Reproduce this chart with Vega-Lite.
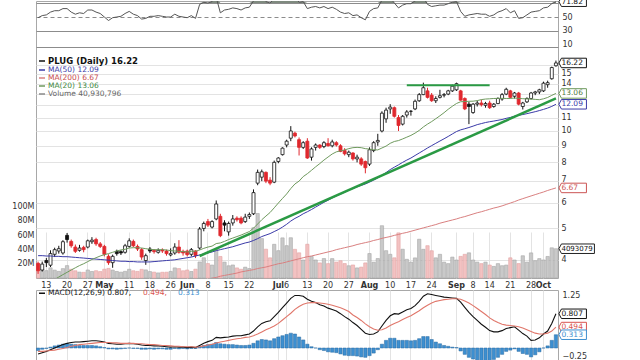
{
"$schema":"https://vega.github.io/schema/vega-lite/v6.json",
"background":"white",
"padding":{"left":11,"top":-6,"right":0,"bottom":0},
"config":{"font":"DejaVu Sans","view":{"stroke":"#a8a8a8","strokeWidth":1},
"axis":{"labelFont":"DejaVu Sans","labelFontSize":8,"labelColor":"#333333","ticks":false,"domain":false,"gridColor":"#e3e3e3","gridWidth":1},
"legend":{"labelFont":"DejaVu Sans","labelFontSize":7.5,"padding":0,"rowPadding":0,"symbolStrokeWidth":1.5,"labelOffset":2}},
"data":{"values":[
{"d":"2020-04-08","o":3.9,"h":3.95,"l":3.62,"c":3.7,"v":20400000,"m20":3.3,"m50":4.12,"m200":2.9,"rsi":49,"macd":-0.14,"sig":-0.08,"hist":-0.06},
{"d":"2020-04-09","o":3.72,"h":3.95,"l":3.68,"c":3.88,"v":12100000,"m20":3.34,"m50":4.12,"m200":2.91,"rsi":52,"macd":-0.11,"sig":-0.08,"hist":-0.03},
{"d":"2020-04-13","o":3.98,"h":4.05,"l":3.8,"c":3.92,"v":10300000,"m20":3.38,"m50":4.11,"m200":2.92,"rsi":53,"macd":-0.08,"sig":-0.07,"hist":-0.01},
{"d":"2020-04-14","o":3.85,"h":4.28,"l":3.8,"c":4.18,"v":14200000,"m20":3.43,"m50":4.11,"m200":2.93,"rsi":57,"macd":-0.04,"sig":-0.06,"hist":0.02},
{"d":"2020-04-15","o":4.16,"h":4.36,"l":4.08,"c":4.3,"v":11000000,"m20":3.48,"m50":4.1,"m200":2.94,"rsi":59,"macd":0.0,"sig":-0.05,"hist":0.05},
{"d":"2020-04-16","o":4.26,"h":4.42,"l":4.18,"c":4.33,"v":9200000,"m20":3.54,"m50":4.1,"m200":2.95,"rsi":59,"macd":0.04,"sig":-0.03,"hist":0.07},
{"d":"2020-04-17","o":4.2,"h":4.6,"l":4.15,"c":4.55,"v":13100000,"m20":3.6,"m50":4.09,"m200":2.96,"rsi":62,"macd":0.08,"sig":-0.01,"hist":0.09},
{"d":"2020-04-20","o":4.76,"h":4.84,"l":4.52,"c":4.62,"v":17300000,"m20":3.66,"m50":4.09,"m200":2.97,"rsi":62,"macd":0.11,"sig":0.01,"hist":0.1},
{"d":"2020-04-21","o":4.56,"h":4.62,"l":4.36,"c":4.42,"v":12200000,"m20":3.72,"m50":4.08,"m200":2.98,"rsi":57,"macd":0.13,"sig":0.04,"hist":0.09},
{"d":"2020-04-22","o":4.38,"h":4.46,"l":4.2,"c":4.25,"v":10100000,"m20":3.78,"m50":4.07,"m200":2.99,"rsi":54,"macd":0.14,"sig":0.06,"hist":0.08},
{"d":"2020-04-23","o":4.28,"h":4.45,"l":4.24,"c":4.35,"v":8200000,"m20":3.84,"m50":4.06,"m200":3.0,"rsi":56,"macd":0.14,"sig":0.08,"hist":0.06},
{"d":"2020-04-24","o":4.37,"h":4.42,"l":4.22,"c":4.3,"v":7900000,"m20":3.89,"m50":4.05,"m200":3.01,"rsi":55,"macd":0.15,"sig":0.09,"hist":0.06},
{"d":"2020-04-27","o":4.38,"h":4.62,"l":4.34,"c":4.58,"v":11200000,"m20":3.95,"m50":4.04,"m200":3.02,"rsi":60,"macd":0.16,"sig":0.1,"hist":0.06},
{"d":"2020-04-28","o":4.55,"h":4.7,"l":4.48,"c":4.6,"v":9100000,"m20":4.01,"m50":4.03,"m200":3.04,"rsi":60,"macd":0.17,"sig":0.11,"hist":0.06},
{"d":"2020-04-29","o":4.62,"h":4.68,"l":4.42,"c":4.48,"v":10200000,"m20":4.06,"m50":4.02,"m200":3.05,"rsi":57,"macd":0.17,"sig":0.12,"hist":0.05},
{"d":"2020-04-30","o":4.48,"h":4.54,"l":4.35,"c":4.4,"v":9000000,"m20":4.11,"m50":4.01,"m200":3.06,"rsi":55,"macd":0.16,"sig":0.13,"hist":0.03},
{"d":"2020-05-01","o":4.4,"h":4.45,"l":4.1,"c":4.16,"v":12300000,"m20":4.15,"m50":4.0,"m200":3.07,"rsi":50,"macd":0.14,"sig":0.13,"hist":0.01},
{"d":"2020-05-04","o":4.1,"h":4.16,"l":3.86,"c":3.92,"v":13400000,"m20":4.18,"m50":3.99,"m200":3.08,"rsi":45,"macd":0.11,"sig":0.13,"hist":-0.02},
{"d":"2020-05-05","o":3.92,"h":4.15,"l":3.78,"c":4.1,"v":11100000,"m20":4.22,"m50":3.98,"m200":3.1,"rsi":49,"macd":0.1,"sig":0.12,"hist":-0.02},
{"d":"2020-05-06","o":4.25,"h":4.3,"l":4.12,"c":4.18,"v":9100000,"m20":4.26,"m50":3.97,"m200":3.11,"rsi":50,"macd":0.09,"sig":0.12,"hist":-0.03},
{"d":"2020-05-07","o":4.24,"h":4.28,"l":4.14,"c":4.2,"v":8100000,"m20":4.29,"m50":3.96,"m200":3.12,"rsi":51,"macd":0.09,"sig":0.11,"hist":-0.02},
{"d":"2020-05-08","o":4.22,"h":4.48,"l":4.18,"c":4.42,"v":9300000,"m20":4.31,"m50":3.96,"m200":3.14,"rsi":55,"macd":0.1,"sig":0.11,"hist":-0.01},
{"d":"2020-05-11","o":4.4,"h":4.66,"l":4.36,"c":4.58,"v":12200000,"m20":4.35,"m50":3.95,"m200":3.15,"rsi":58,"macd":0.11,"sig":0.11,"hist":0.0},
{"d":"2020-05-12","o":4.56,"h":4.62,"l":4.38,"c":4.42,"v":10100000,"m20":4.36,"m50":3.95,"m200":3.17,"rsi":54,"macd":0.1,"sig":0.11,"hist":-0.01},
{"d":"2020-05-13","o":4.4,"h":4.46,"l":4.26,"c":4.32,"v":9200000,"m20":4.36,"m50":3.94,"m200":3.18,"rsi":52,"macd":0.09,"sig":0.1,"hist":-0.01},
{"d":"2020-05-14","o":4.3,"h":4.35,"l":4.0,"c":4.08,"v":12100000,"m20":4.35,"m50":3.94,"m200":3.2,"rsi":47,"macd":0.07,"sig":0.1,"hist":-0.03},
{"d":"2020-05-15","o":3.98,"h":4.18,"l":3.86,"c":4.12,"v":11300000,"m20":4.33,"m50":3.94,"m200":3.22,"rsi":48,"macd":0.06,"sig":0.09,"hist":-0.03},
{"d":"2020-05-18","o":4.32,"h":4.38,"l":4.2,"c":4.26,"v":9000000,"m20":4.31,"m50":3.94,"m200":3.23,"rsi":51,"macd":0.06,"sig":0.08,"hist":-0.02},
{"d":"2020-05-19","o":4.28,"h":4.32,"l":4.18,"c":4.24,"v":8200000,"m20":4.3,"m50":3.95,"m200":3.25,"rsi":51,"macd":0.05,"sig":0.08,"hist":-0.03},
{"d":"2020-05-20","o":4.22,"h":4.34,"l":4.18,"c":4.28,"v":7100000,"m20":4.3,"m50":3.96,"m200":3.26,"rsi":52,"macd":0.05,"sig":0.07,"hist":-0.02},
{"d":"2020-05-21","o":4.29,"h":4.34,"l":4.2,"c":4.26,"v":8000000,"m20":4.3,"m50":3.97,"m200":3.28,"rsi":51,"macd":0.04,"sig":0.06,"hist":-0.02},
{"d":"2020-05-22","o":4.26,"h":4.3,"l":4.12,"c":4.18,"v":8100000,"m20":4.29,"m50":3.98,"m200":3.3,"rsi":50,"macd":0.03,"sig":0.06,"hist":-0.03},
{"d":"2020-05-26","o":4.14,"h":4.34,"l":4.1,"c":4.18,"v":9200000,"m20":4.27,"m50":3.99,"m200":3.32,"rsi":50,"macd":0.02,"sig":0.05,"hist":-0.03},
{"d":"2020-05-27","o":4.2,"h":4.5,"l":4.15,"c":4.38,"v":14100000,"m20":4.26,"m50":4.0,"m200":3.34,"rsi":54,"macd":0.03,"sig":0.04,"hist":-0.01},
{"d":"2020-05-28","o":4.38,"h":4.6,"l":4.18,"c":4.22,"v":13200000,"m20":4.25,"m50":4.02,"m200":3.36,"rsi":51,"macd":0.02,"sig":0.04,"hist":-0.02},
{"d":"2020-05-29","o":4.25,"h":4.3,"l":4.12,"c":4.2,"v":10100000,"m20":4.24,"m50":4.04,"m200":3.37,"rsi":50,"macd":0.02,"sig":0.03,"hist":-0.01},
{"d":"2020-06-01","o":4.26,"h":4.3,"l":4.1,"c":4.15,"v":11200000,"m20":4.23,"m50":4.06,"m200":3.39,"rsi":49,"macd":0.01,"sig":0.03,"hist":-0.02},
{"d":"2020-06-02","o":4.16,"h":4.35,"l":4.1,"c":4.3,"v":9100000,"m20":4.25,"m50":4.08,"m200":3.41,"rsi":52,"macd":0.02,"sig":0.03,"hist":-0.01},
{"d":"2020-06-03","o":4.26,"h":4.28,"l":4.05,"c":4.12,"v":12300000,"m20":4.25,"m50":4.11,"m200":3.43,"rsi":48,"macd":0.01,"sig":0.02,"hist":-0.01},
{"d":"2020-06-04","o":4.35,"h":5.05,"l":4.3,"c":4.98,"v":22400000,"m20":4.29,"m50":4.14,"m200":3.45,"rsi":68,"macd":0.06,"sig":0.03,"hist":0.03},
{"d":"2020-06-05","o":5.0,"h":5.25,"l":4.9,"c":5.18,"v":28300000,"m20":4.34,"m50":4.17,"m200":3.47,"rsi":71,"macd":0.11,"sig":0.05,"hist":0.06},
{"d":"2020-06-08","o":5.25,"h":5.35,"l":5.05,"c":5.12,"v":20200000,"m20":4.38,"m50":4.2,"m200":3.49,"rsi":70,"macd":0.15,"sig":0.07,"hist":0.08},
{"d":"2020-06-09","o":5.05,"h":5.3,"l":5.0,"c":5.25,"v":18100000,"m20":4.41,"m50":4.23,"m200":3.51,"rsi":72,"macd":0.18,"sig":0.09,"hist":0.09},
{"d":"2020-06-10","o":5.35,"h":6.1,"l":5.3,"c":5.95,"v":40200000,"m20":4.49,"m50":4.27,"m200":3.53,"rsi":78,"macd":0.25,"sig":0.12,"hist":0.13},
{"d":"2020-06-11","o":5.45,"h":5.55,"l":4.7,"c":4.75,"v":30100000,"m20":4.51,"m50":4.3,"m200":3.56,"rsi":56,"macd":0.24,"sig":0.14,"hist":0.1},
{"d":"2020-06-12","o":5.2,"h":5.3,"l":4.9,"c":5.12,"v":22200000,"m20":4.56,"m50":4.33,"m200":3.58,"rsi":60,"macd":0.25,"sig":0.16,"hist":0.09},
{"d":"2020-06-15","o":4.88,"h":5.25,"l":4.75,"c":5.18,"v":17100000,"m20":4.62,"m50":4.36,"m200":3.6,"rsi":61,"macd":0.26,"sig":0.18,"hist":0.08},
{"d":"2020-06-16","o":5.2,"h":5.5,"l":5.1,"c":5.35,"v":18200000,"m20":4.67,"m50":4.39,"m200":3.62,"rsi":63,"macd":0.28,"sig":0.2,"hist":0.08},
{"d":"2020-06-17","o":5.38,"h":5.45,"l":5.25,"c":5.32,"v":14100000,"m20":4.72,"m50":4.43,"m200":3.64,"rsi":62,"macd":0.29,"sig":0.22,"hist":0.07},
{"d":"2020-06-18","o":5.38,"h":5.45,"l":5.15,"c":5.2,"v":12200000,"m20":4.77,"m50":4.47,"m200":3.67,"rsi":60,"macd":0.29,"sig":0.23,"hist":0.06},
{"d":"2020-06-19","o":5.25,"h":5.55,"l":5.2,"c":5.42,"v":15100000,"m20":4.83,"m50":4.51,"m200":3.69,"rsi":63,"macd":0.31,"sig":0.25,"hist":0.06},
{"d":"2020-06-22","o":5.45,"h":5.6,"l":5.35,"c":5.52,"v":13200000,"m20":4.89,"m50":4.54,"m200":3.71,"rsi":64,"macd":0.33,"sig":0.26,"hist":0.07},
{"d":"2020-06-23","o":5.55,"h":6.6,"l":5.5,"c":6.45,"v":70300000,"m20":5.01,"m50":4.59,"m200":3.73,"rsi":73,"macd":0.4,"sig":0.29,"hist":0.11},
{"d":"2020-06-24","o":6.9,"h":7.6,"l":6.8,"c":7.45,"v":90200000,"m20":5.16,"m50":4.65,"m200":3.76,"rsi":79,"macd":0.5,"sig":0.33,"hist":0.17},
{"d":"2020-06-25","o":7.2,"h":7.6,"l":7.0,"c":7.48,"v":55100000,"m20":5.32,"m50":4.72,"m200":3.78,"rsi":79,"macd":0.58,"sig":0.38,"hist":0.2},
{"d":"2020-06-26","o":7.45,"h":7.5,"l":6.9,"c":7.0,"v":40300000,"m20":5.46,"m50":4.77,"m200":3.8,"rsi":72,"macd":0.62,"sig":0.43,"hist":0.19},
{"d":"2020-06-29","o":7.05,"h":7.2,"l":6.8,"c":6.9,"v":28200000,"m20":5.6,"m50":4.82,"m200":3.83,"rsi":70,"macd":0.64,"sig":0.47,"hist":0.17},
{"d":"2020-06-30","o":6.95,"h":8.1,"l":6.9,"c":8.0,"v":47100000,"m20":5.79,"m50":4.89,"m200":3.86,"rsi":76,"macd":0.74,"sig":0.52,"hist":0.22},
{"d":"2020-07-01","o":8.05,"h":8.3,"l":7.95,"c":8.25,"v":38200000,"m20":5.99,"m50":4.96,"m200":3.89,"rsi":77,"macd":0.84,"sig":0.58,"hist":0.26},
{"d":"2020-07-02","o":8.45,"h":8.9,"l":8.4,"c":8.85,"v":56100000,"m20":6.19,"m50":5.05,"m200":3.91,"rsi":80,"macd":0.95,"sig":0.66,"hist":0.29},
{"d":"2020-07-06","o":9.05,"h":9.4,"l":8.9,"c":9.3,"v":45200000,"m20":6.39,"m50":5.15,"m200":3.94,"rsi":82,"macd":1.06,"sig":0.74,"hist":0.32},
{"d":"2020-07-07","o":9.5,"h":10.35,"l":9.3,"c":10.0,"v":56300000,"m20":6.64,"m50":5.27,"m200":3.97,"rsi":85,"macd":1.17,"sig":0.82,"hist":0.35},
{"d":"2020-07-08","o":9.85,"h":9.95,"l":9.55,"c":9.65,"v":40100000,"m20":6.86,"m50":5.37,"m200":4.0,"rsi":80,"macd":1.24,"sig":0.91,"hist":0.33},
{"d":"2020-07-09","o":9.4,"h":9.55,"l":8.4,"c":8.9,"v":35200000,"m20":7.0,"m50":5.45,"m200":4.03,"rsi":71,"macd":1.24,"sig":0.98,"hist":0.26},
{"d":"2020-07-10","o":8.9,"h":9.3,"l":8.8,"c":9.2,"v":25100000,"m20":7.23,"m50":5.55,"m200":4.06,"rsi":72,"macd":1.22,"sig":1.03,"hist":0.19},
{"d":"2020-07-13","o":9.3,"h":9.5,"l":8.2,"c":8.25,"v":47200000,"m20":7.38,"m50":5.63,"m200":4.09,"rsi":62,"macd":1.15,"sig":1.06,"hist":0.09},
{"d":"2020-07-14","o":8.3,"h":8.9,"l":8.1,"c":8.8,"v":30100000,"m20":7.56,"m50":5.72,"m200":4.11,"rsi":64,"macd":1.1,"sig":1.07,"hist":0.03},
{"d":"2020-07-15","o":8.9,"h":9.15,"l":8.7,"c":9.05,"v":25200000,"m20":7.75,"m50":5.82,"m200":4.14,"rsi":65,"macd":1.07,"sig":1.07,"hist":0.0},
{"d":"2020-07-16","o":9.05,"h":9.1,"l":8.8,"c":8.9,"v":21100000,"m20":7.93,"m50":5.92,"m200":4.17,"rsi":63,"macd":1.02,"sig":1.06,"hist":-0.04},
{"d":"2020-07-17","o":8.95,"h":9.3,"l":8.85,"c":9.2,"v":27200000,"m20":8.13,"m50":6.02,"m200":4.2,"rsi":65,"macd":0.99,"sig":1.05,"hist":-0.06},
{"d":"2020-07-20","o":9.15,"h":9.5,"l":8.95,"c":9.0,"v":20100000,"m20":8.31,"m50":6.11,"m200":4.23,"rsi":62,"macd":0.94,"sig":1.03,"hist":-0.09},
{"d":"2020-07-21","o":9.0,"h":9.4,"l":8.9,"c":9.25,"v":27100000,"m20":8.49,"m50":6.21,"m200":4.26,"rsi":64,"macd":0.91,"sig":1.01,"hist":-0.1},
{"d":"2020-07-22","o":9.2,"h":9.3,"l":8.95,"c":9.05,"v":22200000,"m20":8.62,"m50":6.3,"m200":4.3,"rsi":61,"macd":0.87,"sig":0.98,"hist":-0.11},
{"d":"2020-07-23","o":9.0,"h":9.1,"l":8.6,"c":8.65,"v":24100000,"m20":8.68,"m50":6.38,"m200":4.33,"rsi":57,"macd":0.81,"sig":0.95,"hist":-0.14},
{"d":"2020-07-24","o":8.7,"h":8.85,"l":8.4,"c":8.5,"v":20200000,"m20":8.74,"m50":6.47,"m200":4.36,"rsi":55,"macd":0.74,"sig":0.91,"hist":-0.17},
{"d":"2020-07-27","o":8.45,"h":8.7,"l":8.3,"c":8.6,"v":17100000,"m20":8.82,"m50":6.56,"m200":4.39,"rsi":56,"macd":0.68,"sig":0.86,"hist":-0.18},
{"d":"2020-07-28","o":8.55,"h":8.6,"l":8.1,"c":8.2,"v":18200000,"m20":8.88,"m50":6.64,"m200":4.42,"rsi":52,"macd":0.6,"sig":0.78,"hist":-0.18},
{"d":"2020-07-29","o":8.2,"h":8.45,"l":8.0,"c":8.3,"v":14100000,"m20":8.9,"m50":6.72,"m200":4.46,"rsi":53,"macd":0.53,"sig":0.72,"hist":-0.19},
{"d":"2020-07-30","o":8.2,"h":8.3,"l":7.8,"c":7.9,"v":15200000,"m20":8.88,"m50":6.79,"m200":4.49,"rsi":49,"macd":0.44,"sig":0.65,"hist":-0.21},
{"d":"2020-07-31","o":8.05,"h":8.1,"l":7.4,"c":7.7,"v":21100000,"m20":8.82,"m50":6.86,"m200":4.52,"rsi":46,"macd":0.35,"sig":0.57,"hist":-0.22},
{"d":"2020-08-03","o":7.9,"h":8.9,"l":7.8,"c":8.75,"v":34200000,"m20":8.79,"m50":6.95,"m200":4.55,"rsi":58,"macd":0.32,"sig":0.5,"hist":-0.18},
{"d":"2020-08-04","o":8.7,"h":9.3,"l":8.6,"c":9.2,"v":22100000,"m20":8.75,"m50":7.05,"m200":4.59,"rsi":62,"macd":0.33,"sig":0.45,"hist":-0.12},
{"d":"2020-08-05","o":9.25,"h":9.8,"l":9.0,"c":9.35,"v":27200000,"m20":8.74,"m50":7.16,"m200":4.62,"rsi":63,"macd":0.38,"sig":0.42,"hist":-0.04},
{"d":"2020-08-06","o":10.0,"h":11.5,"l":9.9,"c":11.35,"v":73100000,"m20":8.86,"m50":7.3,"m200":4.66,"rsi":74,"macd":0.52,"sig":0.43,"hist":0.09},
{"d":"2020-08-07","o":10.9,"h":11.8,"l":10.6,"c":11.6,"v":38200000,"m20":8.98,"m50":7.44,"m200":4.69,"rsi":76,"macd":0.65,"sig":0.47,"hist":0.18},
{"d":"2020-08-10","o":11.7,"h":12.1,"l":11.3,"c":11.85,"v":33100000,"m20":9.16,"m50":7.6,"m200":4.72,"rsi":77,"macd":0.76,"sig":0.53,"hist":0.23},
{"d":"2020-08-11","o":11.8,"h":11.9,"l":11.0,"c":11.1,"v":28200000,"m20":9.28,"m50":7.73,"m200":4.76,"rsi":70,"macd":0.81,"sig":0.58,"hist":0.23},
{"d":"2020-08-12","o":11.0,"h":11.2,"l":10.0,"c":10.4,"v":63100000,"m20":9.34,"m50":7.86,"m200":4.79,"rsi":63,"macd":0.8,"sig":0.62,"hist":0.18},
{"d":"2020-08-13","o":10.5,"h":11.2,"l":10.4,"c":11.1,"v":40200000,"m20":9.45,"m50":8.0,"m200":4.83,"rsi":67,"macd":0.85,"sig":0.67,"hist":0.18},
{"d":"2020-08-14","o":11.2,"h":11.6,"l":11.0,"c":11.45,"v":26100000,"m20":9.57,"m50":8.13,"m200":4.86,"rsi":69,"macd":0.9,"sig":0.72,"hist":0.18},
{"d":"2020-08-17","o":11.5,"h":11.6,"l":11.15,"c":11.5,"v":22200000,"m20":9.69,"m50":8.25,"m200":4.9,"rsi":69,"macd":0.93,"sig":0.76,"hist":0.17},
{"d":"2020-08-18","o":11.7,"h":12.5,"l":11.6,"c":12.35,"v":28100000,"m20":9.85,"m50":8.4,"m200":4.94,"rsi":73,"macd":1.0,"sig":0.82,"hist":0.18},
{"d":"2020-08-19","o":12.4,"h":13.1,"l":12.3,"c":12.95,"v":54200000,"m20":10.04,"m50":8.55,"m200":4.98,"rsi":76,"macd":1.1,"sig":0.88,"hist":0.22},
{"d":"2020-08-20","o":12.95,"h":14.1,"l":12.9,"c":13.6,"v":40100000,"m20":10.29,"m50":8.7,"m200":5.02,"rsi":78,"macd":1.22,"sig":0.95,"hist":0.27},
{"d":"2020-08-21","o":13.3,"h":13.6,"l":12.6,"c":12.7,"v":45200000,"m20":10.5,"m50":8.86,"m200":5.06,"rsi":68,"macd":1.28,"sig":1.01,"hist":0.27},
{"d":"2020-08-24","o":12.9,"h":13.1,"l":12.3,"c":12.4,"v":38100000,"m20":10.69,"m50":9.01,"m200":5.1,"rsi":65,"macd":1.26,"sig":1.06,"hist":0.2},
{"d":"2020-08-25","o":12.4,"h":12.8,"l":12.2,"c":12.6,"v":28200000,"m20":10.91,"m50":9.16,"m200":5.14,"rsi":66,"macd":1.24,"sig":1.1,"hist":0.14},
{"d":"2020-08-26","o":12.7,"h":13.4,"l":12.6,"c":12.85,"v":33100000,"m20":11.14,"m50":9.31,"m200":5.19,"rsi":67,"macd":1.22,"sig":1.12,"hist":0.1},
{"d":"2020-08-27","o":12.9,"h":13.1,"l":12.7,"c":12.95,"v":22200000,"m20":11.39,"m50":9.46,"m200":5.23,"rsi":67,"macd":1.2,"sig":1.14,"hist":0.06},
{"d":"2020-08-28","o":13.0,"h":13.4,"l":12.9,"c":13.3,"v":20100000,"m20":11.67,"m50":9.62,"m200":5.27,"rsi":69,"macd":1.19,"sig":1.15,"hist":0.04},
{"d":"2020-08-31","o":13.3,"h":13.9,"l":13.2,"c":13.75,"v":29200000,"m20":11.92,"m50":9.79,"m200":5.31,"rsi":71,"macd":1.18,"sig":1.16,"hist":0.02},
{"d":"2020-09-01","o":13.4,"h":14.1,"l":13.3,"c":14.0,"v":25100000,"m20":12.16,"m50":9.96,"m200":5.35,"rsi":72,"macd":1.17,"sig":1.16,"hist":0.01},
{"d":"2020-09-02","o":13.3,"h":13.4,"l":12.4,"c":12.45,"v":30200000,"m20":12.31,"m50":10.08,"m200":5.4,"rsi":58,"macd":1.08,"sig":1.15,"hist":-0.07},
{"d":"2020-09-03","o":12.6,"h":12.7,"l":11.6,"c":11.7,"v":33100000,"m20":12.33,"m50":10.16,"m200":5.44,"rsi":51,"macd":0.96,"sig":1.11,"hist":-0.15},
{"d":"2020-09-04","o":12.1,"h":12.3,"l":10.5,"c":11.9,"v":35200000,"m20":12.35,"m50":10.25,"m200":5.49,"rsi":53,"macd":0.84,"sig":1.06,"hist":-0.22},
{"d":"2020-09-08","o":11.4,"h":12.2,"l":11.3,"c":12.1,"v":25100000,"m20":12.36,"m50":10.35,"m200":5.54,"rsi":54,"macd":0.74,"sig":1.0,"hist":-0.26},
{"d":"2020-09-09","o":12.1,"h":12.4,"l":11.9,"c":12.2,"v":22200000,"m20":12.41,"m50":10.46,"m200":5.59,"rsi":55,"macd":0.65,"sig":0.93,"hist":-0.28},
{"d":"2020-09-10","o":12.2,"h":12.5,"l":11.9,"c":12.05,"v":20100000,"m20":12.5,"m50":10.54,"m200":5.63,"rsi":54,"macd":0.56,"sig":0.86,"hist":-0.3},
{"d":"2020-09-11","o":12.0,"h":12.3,"l":11.8,"c":12.15,"v":22200000,"m20":12.55,"m50":10.62,"m200":5.68,"rsi":54,"macd":0.49,"sig":0.79,"hist":-0.3},
{"d":"2020-09-14","o":12.2,"h":12.4,"l":11.7,"c":11.8,"v":18100000,"m20":12.57,"m50":10.68,"m200":5.73,"rsi":51,"macd":0.41,"sig":0.71,"hist":-0.3},
{"d":"2020-09-15","o":11.9,"h":12.2,"l":11.8,"c":12.1,"v":16200000,"m20":12.6,"m50":10.73,"m200":5.78,"rsi":53,"macd":0.38,"sig":0.65,"hist":-0.27},
{"d":"2020-09-16","o":12.15,"h":12.7,"l":12.1,"c":12.6,"v":20100000,"m20":12.61,"m50":10.79,"m200":5.82,"rsi":57,"macd":0.38,"sig":0.6,"hist":-0.22},
{"d":"2020-09-17","o":12.55,"h":13.1,"l":12.4,"c":12.95,"v":17200000,"m20":12.61,"m50":10.85,"m200":5.87,"rsi":59,"macd":0.41,"sig":0.56,"hist":-0.15},
{"d":"2020-09-18","o":13.0,"h":13.6,"l":12.9,"c":13.45,"v":18100000,"m20":12.6,"m50":10.94,"m200":5.93,"rsi":62,"macd":0.46,"sig":0.54,"hist":-0.08},
{"d":"2020-09-21","o":13.3,"h":13.4,"l":12.6,"c":12.7,"v":28200000,"m20":12.6,"m50":11.01,"m200":5.99,"rsi":56,"macd":0.48,"sig":0.53,"hist":-0.05},
{"d":"2020-09-22","o":12.8,"h":13.2,"l":12.6,"c":13.1,"v":25100000,"m20":12.64,"m50":11.11,"m200":6.05,"rsi":59,"macd":0.5,"sig":0.52,"hist":-0.02},
{"d":"2020-09-23","o":13.1,"h":13.2,"l":12.0,"c":12.1,"v":20200000,"m20":12.61,"m50":11.18,"m200":6.12,"rsi":48,"macd":0.42,"sig":0.5,"hist":-0.08},
{"d":"2020-09-24","o":11.9,"h":12.3,"l":11.65,"c":12.2,"v":31100000,"m20":12.58,"m50":11.24,"m200":6.18,"rsi":49,"macd":0.34,"sig":0.47,"hist":-0.13},
{"d":"2020-09-25","o":12.3,"h":12.7,"l":12.2,"c":12.6,"v":22200000,"m20":12.56,"m50":11.31,"m200":6.24,"rsi":53,"macd":0.28,"sig":0.43,"hist":-0.15},
{"d":"2020-09-28","o":12.6,"h":13.2,"l":12.5,"c":13.1,"v":35100000,"m20":12.55,"m50":11.39,"m200":6.3,"rsi":57,"macd":0.18,"sig":0.39,"hist":-0.21},
{"d":"2020-09-29","o":13.1,"h":13.3,"l":12.9,"c":13.2,"v":24200000,"m20":12.52,"m50":11.47,"m200":6.36,"rsi":58,"macd":0.19,"sig":0.35,"hist":-0.16},
{"d":"2020-09-30","o":13.2,"h":13.5,"l":13.0,"c":13.4,"v":27100000,"m20":12.49,"m50":11.56,"m200":6.42,"rsi":59,"macd":0.24,"sig":0.33,"hist":-0.09},
{"d":"2020-10-01","o":13.3,"h":14.2,"l":13.2,"c":14.05,"v":25200000,"m20":12.57,"m50":11.66,"m200":6.48,"rsi":63,"macd":0.33,"sig":0.33,"hist":0.0},
{"d":"2020-10-02","o":13.9,"h":14.3,"l":13.6,"c":14.1,"v":30100000,"m20":12.69,"m50":11.77,"m200":6.55,"rsi":64,"macd":0.4,"sig":0.35,"hist":0.05},
{"d":"2020-10-05","o":14.5,"h":15.8,"l":14.4,"c":15.7,"v":42200000,"m20":12.88,"m50":11.91,"m200":6.61,"rsi":69,"macd":0.58,"sig":0.4,"hist":0.18},
{"d":"2020-10-06","o":15.9,"h":16.5,"l":15.8,"c":16.22,"v":40930796,"m20":13.06,"m50":12.09,"m200":6.67,"rsi":71.82,"macd":0.807,"sig":0.494,"hist":0.313}
]},
"transform":[
{"window":[{"op":"lag","field":"c","as":"pc"}],"sort":[{"field":"d","order":"ascending"}]},
{"calculate":"isValid(datum.pc) ? (datum.c < datum.pc) : (datum.c < datum.o)","as":"dn"},
{"calculate":"max(datum.rsi, 70)","as":"rsiHi"}
],
"vconcat":[
{
"width":522,"height":277,
"encoding":{"x":{"field":"d","type":"ordinal","title":null,"scale":{"type":"band","paddingInner":0,"paddingOuter":0},
"axis":{"values":["2020-04-13","2020-04-20","2020-04-27","2020-05-01","2020-05-11","2020-05-18","2020-05-26","2020-06-01","2020-06-08","2020-06-15","2020-06-22","2020-07-01","2020-07-06","2020-07-13","2020-07-20","2020-07-27","2020-08-03","2020-08-10","2020-08-17","2020-08-24","2020-09-01","2020-09-08","2020-09-14","2020-09-21","2020-09-28","2020-10-01"],
"labelExpr":"(substring(datum.value,8,10)=='01' || datum.value=='2020-08-03') ? ['Jan','Feb','Mar','Apr','May','Jun','Jul','Aug','Sep','Oct','Nov','Dec'][toNumber(substring(datum.value,5,7))-1] : toString(toNumber(substring(datum.value,8,10)))",
"labelFontWeight":{"condition":{"test":"substring(datum.value,8,10)=='01' || datum.value=='2020-08-03'","value":"bold"},"value":"normal"},
"labelAngle":0,"labelPadding":3,"labelOverlap":false,"labelBound":false,"labelFlush":false,"grid":true,"bandPosition":0.5,"title":null}}},
"layer":[
{"layer":[
{"mark":{"type":"area","color":"#7f8a7f","clip":true},
"encoding":{"y":{"field":"rsiHi","type":"quantitative","title":null,"scale":{"domain":[7.14,72.86],"range":[46,0],"nice":false,"zero":false},
"axis":{"orient":"right","values":[7.14,10,30,50,70],"labelExpr":"(datum.value==10||datum.value==30||datum.value==50) ? datum.label : ''","grid":true,"labelPadding":4,
"gridDash":{"condition":{"test":"datum.value==50","value":[4,3]},"value":[]},
"gridColor":{"condition":{"test":"datum.value==10","value":"rgba(0,0,0,0)"},"value":"#8c8c8c"}}},
"y2":{"datum":70}}},
{"mark":{"type":"line","color":"#555555","strokeWidth":1,"clip":true},
"encoding":{"y":{"field":"rsi","type":"quantitative","title":null,"scale":{"domain":[7.14,72.86],"range":[46,0],"nice":false,"zero":false}}}},
{"transform":[{"filter":"datum.d=='2020-10-06'"}],
"mark":{"type":"point","shape":"M0.6,0 L1.1,-0.95 L6.1,-0.95 L6.1,0.95 L1.1,0.95 Z","size":100,"filled":true,"fill":"white","stroke":"#222222","strokeWidth":1,"opacity":1},
"encoding":{"y":{"field":"rsi","type":"quantitative","title":null,"scale":{"domain":[7.14,72.86],"range":[46,0],"nice":false,"zero":false}}}},
{"transform":[{"filter":"datum.d=='2020-10-06'"}],
"mark":{"type":"text","align":"left","dx":5.5,"fontSize":7.5,"color":"#111111"},
"encoding":{"y":{"field":"rsi","type":"quantitative","title":null,"scale":{"domain":[7.14,72.86],"range":[46,0],"nice":false,"zero":false}},"text":{"field":"rsi","type":"quantitative","format":".2f"}}}
]},
{"layer":[
{"mark":{"type":"bar","size":3.3,"strokeWidth":0.6,"opacity":0.9},
"encoding":{"y":{"field":"v","type":"quantitative","title":null,"scale":{"domain":[0,323000000],"range":[277,46],"nice":false},
"axis":{"orient":"left","values":[20000000,40000000,60000000,80000000,100000000],"labelExpr":"(datum.value/1000000) + 'M'","grid":false,"labelPadding":2}},
"fill":{"condition":{"test":"datum.dn","value":"#f2bcbc"},"value":"#c4c4c4"},
"stroke":{"condition":{"test":"datum.dn","value":"#e09a9a"},"value":"#9e9e9e"}}},
{"transform":[{"filter":"datum.d=='2020-10-06'"}],
"mark":{"type":"point","shape":"M0.6,0 L1.1,-0.95 L7.7,-0.95 L7.7,0.95 L1.1,0.95 Z","size":100,"filled":true,"fill":"white","stroke":"#222222","strokeWidth":1,"opacity":1},
"encoding":{"y":{"field":"v","type":"quantitative","title":null,"scale":{"domain":[0,323000000],"range":[277,46],"nice":false}}}},
{"transform":[{"filter":"datum.d=='2020-10-06'"},{"calculate":"substring(toString(datum.v),0,7)","as":"vtxt"}],
"mark":{"type":"text","align":"left","dx":5.5,"fontSize":7,"color":"#111111"},
"encoding":{"y":{"field":"v","type":"quantitative","title":null,"scale":{"domain":[0,323000000],"range":[277,46],"nice":false}},"text":{"field":"vtxt","type":"nominal"}}}
]},
{"layer":[
{"mark":{"type":"rule","strokeWidth":1},
"encoding":{"y":{"field":"l","type":"quantitative","title":null,"scale":{"type":"log","domain":[3.515,18.17],"range":[277,46],"nice":false},
"axis":{"orient":"right","values":[4,5,6,7,8,9,10,11,12,13,14,15,16],"labelExpr":"(datum.value==12||datum.value==13||datum.value==16) ? '' : datum.label","grid":true,"labelPadding":3,
"labelBaseline":{"condition":{"test":"datum.value==7","value":"alphabetic"},"value":"middle"}}},
"y2":{"field":"h"},
"color":{"condition":{"test":"datum.dn","value":"#e0282e"},"value":"#111111"}}},
{"mark":{"type":"bar","size":3,"strokeWidth":0.8},
"encoding":{"y":{"field":"o","type":"quantitative","title":null,"scale":{"type":"log","domain":[3.515,18.17],"range":[277,46],"nice":false}},
"y2":{"field":"c"},
"fill":{"condition":[{"test":"datum.c >= datum.o","value":"#ffffff"},{"test":"datum.dn","value":"#e0282e"}],"value":"#111111"},
"stroke":{"condition":{"test":"datum.dn","value":"#e0282e"},"value":"#111111"}}},
{"transform":[{"fold":["m50","m200","m20"],"as":["k","val"]}],
"mark":{"type":"line","strokeWidth":1,"clip":true},
"encoding":{"y":{"field":"val","type":"quantitative","title":null,"scale":{"type":"log","domain":[3.515,18.17],"range":[277,46],"nice":false}},
"color":{"field":"k","type":"nominal","scale":{"domain":["px","m50","m200","m20","vol"],"range":["#111111","#3a3aa8","#d98080","#6f9a5e","#8a8a8a"]},
"legend":{"title":null,"orient":"none","legendX":2,"legendY":56,"direction":"vertical","symbolType":"stroke","symbolSize":36,
"labelExpr":"datum.label=='px' ? 'PLUG (Daily) 16.22' : datum.label=='m50' ? 'MA(50) 12.09' : datum.label=='m200' ? 'MA(200) 6.67' : datum.label=='m20' ? 'MA(20) 13.06' : 'Volume 40,930,796'",
"encode":{"labels":{"update":{"fill":{"signal":"datum.value=='px' ? '#111111' : datum.value=='m50' ? '#3a3aa8' : datum.value=='m200' ? '#c94b4b' : datum.value=='m20' ? '#3f8a3f' : '#666666'"},"fontWeight":{"signal":"datum.value=='px' ? 'bold' : 'normal'"},"fontSize":{"signal":"datum.value=='px' ? 8.5 : 7.5"}}}}}}}},
{"data":{"values":[{"d":"2020-06-04","p":4.11},{"d":"2020-10-06","p":12.6}]},
"mark":{"type":"line","color":"#2a9a44","strokeWidth":2.5,"clip":true},
"encoding":{"y":{"field":"p","type":"quantitative","title":null,"scale":{"type":"log","domain":[3.515,18.17],"range":[277,46],"nice":false}}}},
{"data":{"values":[{"d":"2020-08-14","p":13.85},{"d":"2020-09-14","p":13.85}]},
"mark":{"type":"line","color":"#2a9a44","strokeWidth":2,"clip":true},
"encoding":{"y":{"field":"p","type":"quantitative","title":null,"scale":{"type":"log","domain":[3.515,18.17],"range":[277,46],"nice":false}}}},
{"transform":[{"filter":"datum.d=='2020-10-06'"},{"fold":["c","m20","m50","m200"],"as":["k","val"]}],
"mark":{"type":"point","shape":"M0.6,0 L1.1,-0.95 L6.1,-0.95 L6.1,0.95 L1.1,0.95 Z","size":100,"filled":true,"fill":"white","strokeWidth":1,"opacity":1},
"encoding":{"y":{"field":"val","type":"quantitative","title":null,"scale":{"type":"log","domain":[3.515,18.17],"range":[277,46],"nice":false}},
"stroke":{"condition":[{"test":"datum.k=='m20'","value":"#6f9a5e"},{"test":"datum.k=='m50'","value":"#3a3aa8"},{"test":"datum.k=='m200'","value":"#cc5555"}],"value":"#111111"}}},
{"transform":[{"filter":"datum.d=='2020-10-06'"},{"fold":["c","m20","m50","m200"],"as":["k","val"]}],
"mark":{"type":"text","align":"left","dx":5.5,"fontSize":7.5},
"encoding":{"y":{"field":"val","type":"quantitative","title":null,"scale":{"type":"log","domain":[3.515,18.17],"range":[277,46],"nice":false}},
"text":{"field":"val","type":"quantitative","format":".2f"},
"fontWeight":{"condition":{"test":"datum.k=='c'","value":"bold"},"value":"normal"},
"color":{"condition":[{"test":"datum.k=='m20'","value":"#4f7a40"},{"test":"datum.k=='m50'","value":"#3a3aa8"},{"test":"datum.k=='m200'","value":"#cc5555"}],"value":"#111111"}}}
]}
],
"resolve":{"scale":{"y":"independent"}}
},
{
"width":522,"height":70,
"encoding":{"x":{"field":"d","type":"ordinal","title":null,"scale":{"type":"band","paddingInner":0,"paddingOuter":0},
"axis":{"values":["2020-04-13","2020-04-20","2020-04-27","2020-05-01","2020-05-11","2020-05-18","2020-05-26","2020-06-01","2020-06-08","2020-06-15","2020-06-22","2020-07-01","2020-07-06","2020-07-13","2020-07-20","2020-07-27","2020-08-03","2020-08-10","2020-08-17","2020-08-24","2020-09-01","2020-09-08","2020-09-14","2020-09-21","2020-09-28","2020-10-01"],"labels":false,"grid":true,"bandPosition":0.5,"title":null}}},
"layer":[
{"mark":{"type":"bar","size":3.3,"color":"#3d8fd0","stroke":"#2a6aa0","strokeWidth":0.5,"clip":true},
"encoding":{"y":{"field":"hist","type":"quantitative","title":null,"scale":{"domain":[-0.283,1.368],"nice":false,"zero":false},
"axis":{"orient":"right","values":[-0.25,0,1,1.25],"format":".2f","grid":false,"labelPadding":4,
"labelBaseline":{"condition":{"test":"datum.value < 0","value":"alphabetic"},"value":"middle"}}}}},
{"transform":[{"fold":["macd","sig"],"as":["k","val"]}],
"mark":{"type":"line","strokeWidth":1.1,"clip":true},
"encoding":{"y":{"field":"val","type":"quantitative","title":null,"scale":{"domain":[-0.283,1.368],"nice":false,"zero":false}},
"color":{"field":"k","type":"nominal","scale":{"domain":["macd","sig","hist"],"range":["#111111","#e0766a","#3d8fd0"]},
"legend":{"title":null,"orient":"none","legendX":2,"legendY":-1,"direction":"horizontal","columnPadding":1,"symbolType":"stroke","symbolSize":36,
"labelExpr":"datum.label=='macd' ? 'MACD(12,26,9) 0.807,' : datum.label=='sig' ? '0.494,' : '0.313'",
"encode":{"symbols":{"update":{"opacity":{"signal":"datum.value=='macd' ? 1 : 0"}}},"labels":{"update":{"fill":{"signal":"datum.value=='macd' ? '#111111' : datum.value=='sig' ? '#d9534f' : '#3d8fd0'"}}}}}}}},
{"transform":[{"filter":"datum.d=='2020-10-06'"},{"fold":["macd","sig","hist"],"as":["k","val"]}],
"mark":{"type":"point","shape":"M0.6,0 L1.1,-0.95 L6.1,-0.95 L6.1,0.95 L1.1,0.95 Z","size":100,"filled":true,"fill":"white","strokeWidth":1,"opacity":1},
"encoding":{"y":{"field":"val","type":"quantitative","title":null,"scale":{"domain":[-0.283,1.368],"nice":false,"zero":false}},
"stroke":{"condition":[{"test":"datum.k=='sig'","value":"#d9534f"},{"test":"datum.k=='hist'","value":"#3d8fd0"}],"value":"#111111"}}},
{"transform":[{"filter":"datum.d=='2020-10-06'"},{"fold":["macd","sig","hist"],"as":["k","val"]}],
"mark":{"type":"text","align":"left","dx":5.5,"fontSize":7.5},
"encoding":{"y":{"field":"val","type":"quantitative","title":null,"scale":{"domain":[-0.283,1.368],"nice":false,"zero":false}},
"text":{"field":"val","type":"quantitative","format":".3f"},
"color":{"condition":[{"test":"datum.k=='sig'","value":"#d9534f"},{"test":"datum.k=='hist'","value":"#3d8fd0"}],"value":"#111111"}}}
]
}
],
"spacing":12,
"bounds":"flush",
"resolve":{"scale":{"color":"independent"},"legend":{"color":"independent"}}
}
